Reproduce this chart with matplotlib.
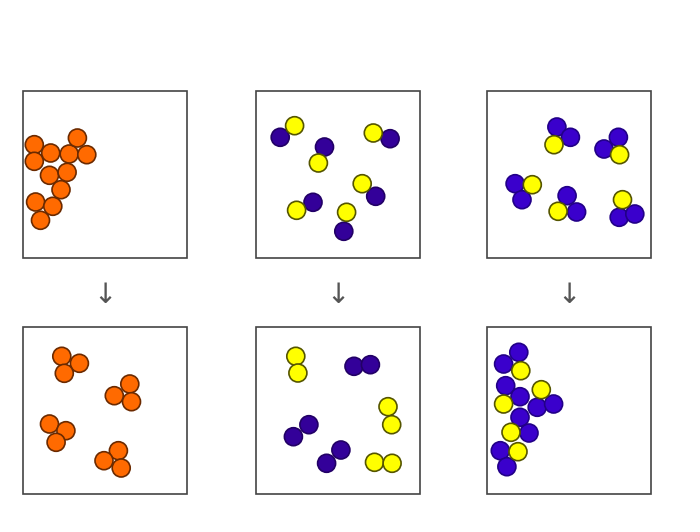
import matplotlib
matplotlib.use("Agg")
import matplotlib.pyplot as plt
from matplotlib.patches import Circle, Rectangle

W, H = 700, 532
panel_x = [23, 256, 487]
panel_y = [91, 327]
panel_w, panel_h = 164, 167
R = 9

ORANGE = ("#ff6a00", "#6b2a00")
PURPLE = ("#330099", "#220066")
BLUE = ("#3a00cc", "#220088")
YELLOW = ("#ffff00", "#555500")

# top row
t1_orange = [(34.3,144.7),(34.3,161.3),(50.7,153),(69.2,154),(77.4,138),(86.8,154.7),
             (49.5,175.3),(67.1,172.3),(61,189.7),(35.6,202),(52.8,206.3),(40.5,220.3)]
t2_purple = [(280.2,137.3),(324.5,147),(390.1,138.7),(313,202.3),(375.7,196.3),(343.8,231.3)]
t2_yellow = [(294.6,125.7),(318.4,163),(373.3,133),(362.2,183.7),(296.6,210.3),(346.6,212.3)]
t3_blue = [(556.9,127),(570.4,137.3),(618.4,137.3),(604,149),(515.1,183.7),(522,199.7),
           (567.1,195.7),(576.6,212),(619.2,217.3),(634.8,214)]
t3_yellow = [(554,144.7),(619.6,154.7),(532.3,184.7),(558.1,211.3),(622.5,199.7)]
# bottom row
b1_orange = [(61.8,356.3),(79.4,363.3),(64.3,373.3),(129.8,384),(114.3,395.7),(131.5,401.7),
             (49.5,424),(65.9,430.7),(56.1,442.3),(118.4,450.7),(104,460.7),(121.2,468)]
b2_yellow = [(295.8,356.3),(297.9,373),(388,406.7),(391.7,424.7),(374.5,462.3),(392.1,463.3)]
b2_purple = [(354,366.3),(370.4,364.7),(308.9,424.7),(293.4,436.7),(340.9,450),(326.6,463.3)]
b3_blue = [(518.8,352.3),(503.6,364),(505.7,385.7),(520,396.7),(537.2,407.3),(553.6,404),
           (520,417.3),(529,433),(500.3,450.7),(506.9,466.7)]
b3_yellow = [(520.8,370.7),(541.3,389.7),(503.6,404),(511,432.3),(518,451.7)]

fig = plt.figure(figsize=(7, 5.32), dpi=100)
ax = fig.add_axes([0, 0, 1, 1])
ax.set_xlim(0, W)
ax.set_ylim(H, 0)
ax.axis("off")

for px in panel_x:
    for py in panel_y:
        ax.add_patch(Rectangle((px, py), panel_w, panel_h, fill=False,
                               edgecolor="#444444", lw=1.2))

def draw(pts, col):
    for x, y in pts:
        ax.add_patch(Circle((x, y), R, facecolor=col[0], edgecolor=col[1], lw=1.2))

draw(t1_orange, ORANGE)
draw(t2_purple, PURPLE); draw(t2_yellow, YELLOW)
draw(t3_blue, BLUE); draw(t3_yellow, YELLOW)
draw(b1_orange, ORANGE)
draw(b2_yellow, YELLOW); draw(b2_purple, PURPLE)
draw(b3_blue, BLUE); draw(b3_yellow, YELLOW)

for px in panel_x:
    ax.text(px + panel_w / 2, 295, "↓", ha="center", va="center",
            fontsize=20, color="#555555")

fig.savefig("out.png", dpi=100)
